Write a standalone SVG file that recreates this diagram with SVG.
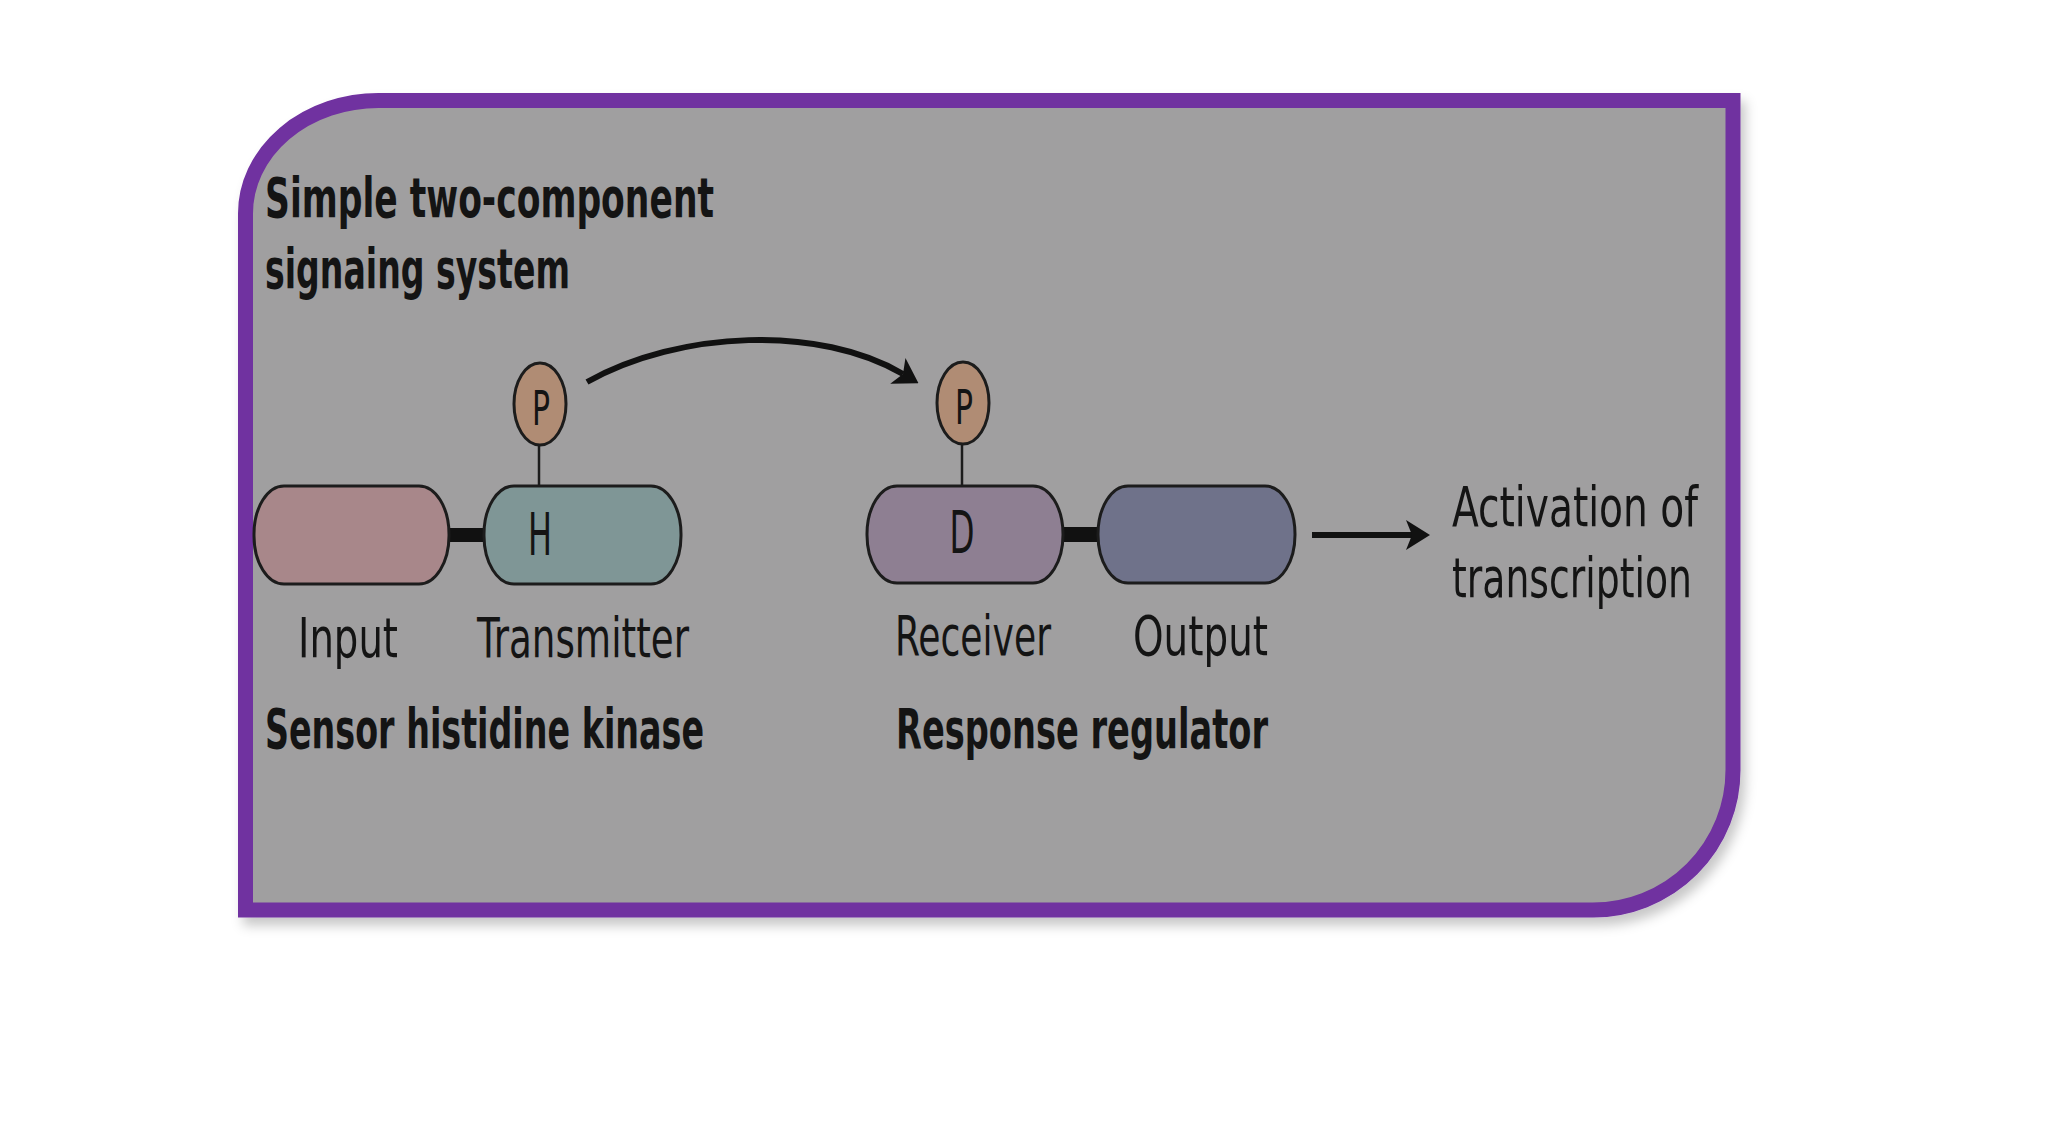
<svg xmlns="http://www.w3.org/2000/svg" width="2048" height="1129" viewBox="0 0 2048 1129">
<defs>
<filter id="shadow" x="-5%" y="-5%" width="110%" height="115%">
<feDropShadow dx="5" dy="8" stdDeviation="6" flood-color="#000" flood-opacity="0.22"/>
</filter>
<marker id="arrow" markerUnits="userSpaceOnUse" viewBox="0 0 24 30" markerWidth="24" markerHeight="30" refX="6" refY="15" orient="auto">
<path d="M0,0 L24,15 L0,30 L6,15 Z" fill="#111"/>
</marker>
<style>
.lbl{font-family:"Liberation Sans Narrow","DejaVu Sans Condensed","Liberation Sans",sans-serif;font-size:55px;fill:#141414;}
.bold{font-weight:bold;}
.pill{stroke:#1c1c1c;stroke-width:3;}
.pc{fill:#b08c74;stroke:#1c1c1c;stroke-width:3;}
.res{font-family:"Liberation Sans Narrow","DejaVu Sans Condensed","Liberation Sans",sans-serif;fill:#141414;text-anchor:middle;}
.stem{stroke:#1c1c1c;stroke-width:2.5;}
.bar{fill:#111;}
.arr{fill:none;stroke:#111;stroke-width:6;}
</style>
</defs>
<rect width="2048" height="1129" fill="#ffffff"/>
<g id="frame">
<path d="M245.5 910 L245.5 213.5 A133 113 0 0 1 378.5 100.5 L1733 100.5 L1733 770 A140 140 0 0 1 1593 910 Z" fill="#a09fa0" stroke="#7030a0" stroke-width="15" filter="url(#shadow)"/>
</g>
<g id="title">
<text class="lbl bold" x="265" y="217" textLength="449" lengthAdjust="spacingAndGlyphs">Simple two-component</text>
<text class="lbl bold" x="265" y="288" textLength="305" lengthAdjust="spacingAndGlyphs">signaing system</text>
</g>
<g id="connectors">
<rect class="bar" x="447" y="528" width="39" height="14"/>
<rect class="bar" x="1061" y="527" width="38" height="15"/>
<line class="stem" x1="539" y1="446" x2="539" y2="487"/>
<line class="stem" x1="962" y1="445" x2="962" y2="486"/>
<path class="arr" d="M587 382 C680 330 820 325 903 374" marker-end="url(#arrow)"/>
<line class="arr" x1="1312" y1="535" x2="1412" y2="535" marker-end="url(#arrow)"/>
</g>
<g id="input">
<rect class="pill" x="254" y="486" width="195" height="98" rx="30" ry="48" fill="#a8878a"/>
<text class="lbl" x="298" y="657" textLength="100" lengthAdjust="spacingAndGlyphs">Input</text>
</g>
<g id="transmitter">
<rect class="pill" x="484" y="486" width="197" height="98" rx="30" ry="48" fill="#7f9696"/>
<text class="res" x="540" y="555" font-size="58" textLength="24" lengthAdjust="spacingAndGlyphs">H</text>
<text class="lbl" x="477" y="657" textLength="212" lengthAdjust="spacingAndGlyphs">Transmitter</text>
</g>
<g id="p-transmitter">
<ellipse class="pc" cx="540" cy="404" rx="26" ry="41"/>
<text class="res" x="541" y="425" font-size="48" textLength="18" lengthAdjust="spacingAndGlyphs">P</text>
</g>
<g id="receiver">
<rect class="pill" x="867" y="486" width="196" height="97" rx="30" ry="48" fill="#8e7f92"/>
<text class="res" x="962" y="553" font-size="58" textLength="25" lengthAdjust="spacingAndGlyphs">D</text>
<text class="lbl" x="895" y="655" textLength="156" lengthAdjust="spacingAndGlyphs">Receiver</text>
</g>
<g id="p-receiver">
<ellipse class="pc" cx="963" cy="403" rx="26" ry="41"/>
<text class="res" x="964" y="424" font-size="48" textLength="18" lengthAdjust="spacingAndGlyphs">P</text>
</g>
<g id="output">
<rect class="pill" x="1098" y="486" width="197" height="97" rx="30" ry="48" fill="#6f728a"/>
<text class="lbl" x="1133" y="655" textLength="135" lengthAdjust="spacingAndGlyphs">Output</text>
</g>
<g id="group-labels">
<text class="lbl bold" x="265" y="748" textLength="439" lengthAdjust="spacingAndGlyphs">Sensor histidine kinase</text>
<text class="lbl bold" x="896" y="748" textLength="372" lengthAdjust="spacingAndGlyphs">Response regulator</text>
</g>
<g id="activation">
<text class="lbl" x="1452" y="526" textLength="246" lengthAdjust="spacingAndGlyphs">Activation of</text>
<text class="lbl" x="1452" y="597" textLength="240" lengthAdjust="spacingAndGlyphs">transcription</text>
</g>
</svg>
